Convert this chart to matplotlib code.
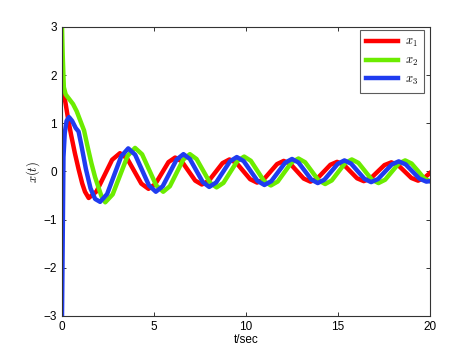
import matplotlib
matplotlib.use("Agg")
import matplotlib.pyplot as plt

plt.rcParams['font.family'] = ['Liberation Sans', 'DejaVu Sans']
plt.rcParams['mathtext.fontset'] = 'cm'

# x1 (red)
t1 = [0, 0.1, 0.2, 0.35, 0.5, 0.7, 0.9, 1.1, 1.25, 1.45,
      1.875, 2.3, 2.725, 3.15, 3.5375, 3.925, 4.3125, 4.7,
      5.0625, 5.425, 5.7875, 6.15, 6.5125, 6.875, 7.2375, 7.6,
      7.975, 8.35, 8.725, 9.1, 9.475, 9.85, 10.225, 10.6,
      10.9625, 11.325, 11.6875, 12.05, 12.4125, 12.775, 13.1375, 13.5,
      13.8625, 14.225, 14.5875, 14.95, 15.3125, 15.675, 16.0375, 16.4,
      16.775, 17.15, 17.525, 17.9, 18.2625, 18.625, 18.9875, 19.35,
      19.7, 20]
x1 = [1.85, 1.62, 1.4, 1.05, 0.75, 0.38, 0.05, -0.25, -0.42, -0.55,
      -0.414, -0.085, 0.244, 0.38, 0.272, 0.01, -0.252, -0.36,
      -0.265, -0.035, 0.195, 0.29, 0.208, 0.01, -0.188, -0.27,
      -0.194, -0.01, 0.174, 0.25, 0.18, 0.01, -0.16, -0.23,
      -0.164, -0.005, 0.154, 0.22, 0.157, 0.005, -0.147, -0.21,
      -0.15, -0.005, 0.14, 0.2, 0.141, 0.0, -0.141, -0.2,
      -0.143, -0.005, 0.133, 0.19, 0.134, 0.0, -0.134, -0.19,
      -0.13, -0.03]

# x2 (green)
t2 = [0, 0.04, 0.1, 0.2, 0.4, 0.6, 0.8, 1.0, 1.2, 1.4, 1.6, 1.8, 2.0, 2.15, 2.35,
      2.755, 3.16, 3.565, 3.97, 4.3525, 4.735, 5.1175, 5.5,
      5.8625, 6.225, 6.5875, 6.95, 7.3125, 7.675, 8.0375, 8.4,
      8.775, 9.15, 9.525, 9.9, 10.2625, 10.625, 10.9875, 11.35,
      11.725, 12.1, 12.475, 12.85, 13.2125, 13.575, 13.9375, 14.3,
      14.6625, 15.025, 15.3875, 15.75, 16.1125, 16.475, 16.8375, 17.2,
      17.5625, 17.925, 18.2875, 18.65, 19.0, 19.35, 19.7, 20]
x2 = [3.0, 2.4, 1.75, 1.6, 1.5, 1.4, 1.25, 1.05, 0.85, 0.5, 0.17, -0.12, -0.35, -0.52, -0.64,
      -0.475, -0.075, 0.325, 0.49, 0.357, 0.035, -0.287, -0.42,
      -0.306, -0.03, 0.246, 0.36, 0.259, 0.015, -0.229, -0.33,
      -0.236, -0.01, 0.216, 0.31, 0.222, 0.01, -0.202, -0.29,
      -0.208, -0.01, 0.188, 0.27, 0.192, 0.005, -0.182, -0.26,
      -0.185, -0.005, 0.175, 0.25, 0.178, 0.005, -0.168, -0.24,
      -0.171, -0.005, 0.161, 0.23, 0.165, 0.01, -0.15, -0.2]

# x3 (blue)
t3 = [0, 0.08, 0.15, 0.25, 0.38, 0.55, 0.75, 0.9, 1.05, 1.3, 1.55, 1.8, 2.07,
      2.45, 2.835, 3.22, 3.6, 3.975, 4.35, 4.725, 5.1,
      5.475, 5.85, 6.225, 6.6, 6.95, 7.3, 7.65, 8.0,
      8.375, 8.75, 9.125, 9.5, 9.875, 10.25, 10.625, 11.0,
      11.375, 11.75, 12.125, 12.5, 12.85, 13.2, 13.55, 13.9,
      14.26, 14.625, 14.99, 15.35, 15.71, 16.075, 16.44, 16.8,
      17.175, 17.55, 17.925, 18.3, 18.675, 19.05, 19.425, 19.8, 20]
x3 = [-3.0, 0.3, 0.8, 1.05, 1.13, 1.05, 0.9, 0.83, 0.55, 0.05, -0.35, -0.57, -0.63,
      -0.47, -0.075, 0.317, 0.48, 0.348, 0.03, -0.288, -0.42,
      -0.306, -0.03, 0.246, 0.36, 0.26, 0.02, -0.22, -0.32,
      -0.229, -0.01, 0.209, 0.30, 0.215, 0.01, -0.195, -0.28,
      -0.201, -0.01, 0.181, 0.26, 0.187, 0.01, -0.167, -0.24,
      -0.171, -0.005, 0.161, 0.23, 0.164, 0.005, -0.154, -0.22,
      -0.157, -0.005, 0.147, 0.21, 0.148, 0.0, -0.148, -0.21, -0.2]

labels = ['$x_1$', '$x_2$', '$x_3$']
xticks = [0, 5, 10, 15, 20]
yticks = [-3, -2, -1, 0, 1, 2, 3]

fig = plt.figure(figsize=(4.74, 3.56), dpi=100)
ax = fig.add_axes([62/474, 1 - 316/356, (430-62)/474, (316-27)/356])

ax.plot(t1, x1, color='#ff0000', lw=3.2, label=labels[0], solid_joinstyle='round')
ax.plot(t2, x2, color='#6cec00', lw=3.2, label=labels[1], solid_joinstyle='round')
ax.plot(t3, x3, color='#1f3cf0', lw=3.2, label=labels[2], solid_joinstyle='round')

ax.set_xlim(0, 20)
ax.set_ylim(-3, 3)
ax.set_xticks(xticks)
ax.set_yticks(yticks)
ax.set_yticklabels(['\u22123', '\u22122', '\u22121', '0', '1', '2', '3'])
ax.tick_params(direction='in', top=True, right=True, labelsize=8.5, length=3,
               width=0.7, colors='#333333', labelcolor='black')
for s in ax.spines.values():
    s.set_color('#333333')
    s.set_linewidth(0.8)

ax.set_xlabel('t/sec', fontsize=8.5, labelpad=1)
ax.set_ylabel('$x(t)$', fontsize=9, labelpad=1)

leg = ax.legend(loc='upper right', bbox_to_anchor=(0.9837, 0.9896),
                fontsize=9, frameon=True, fancybox=False,
                edgecolor='#333333', handlelength=2.6, borderpad=0.5,
                labelspacing=0.45, handletextpad=0.5, borderaxespad=0)
leg.get_frame().set_linewidth(0.8)

fig.savefig('out.png', dpi=100)
